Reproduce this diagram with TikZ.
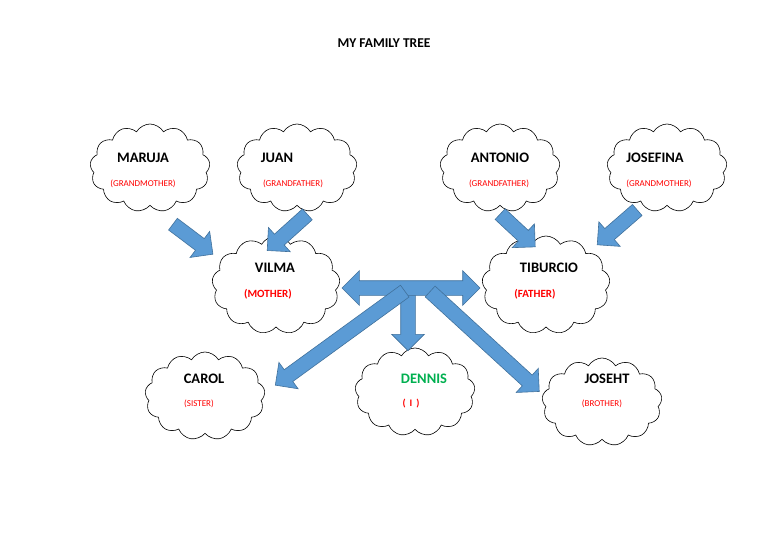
\documentclass[tikz,border=0pt]{standalone}
\usepackage{fontspec}
\setmainfont{Carlito}
\usetikzlibrary{shapes.symbols,shapes.arrows}
\definecolor{abl}{HTML}{5B9BD5}
\definecolor{abd}{HTML}{41719C}
\definecolor{lred}{HTML}{FF0000}
\definecolor{lgrn}{HTML}{00B050}
\tikzset{
 cl/.style={cloud, cloud puffs=13, cloud puff arc=120, aspect=1.4, draw=black, line width=0.6pt, fill=white, minimum width=120pt, minimum height=88pt},
 nm/.style={font=\bfseries\fontsize{14.5}{16}\selectfont},
 lb/.style={font=\fontsize{9}{10}\selectfont, text=lred},
 ba/.style={single arrow, fill=abl, draw=abd, line width=0.6pt, inner sep=0pt, minimum width=32pt, single arrow head extend=9pt, single arrow head indent=0pt, text height=14pt, text depth=0pt, anchor=center},
}
\begin{document}
\begin{tikzpicture}[x=1pt,y=-1pt]
\useasboundingbox (0,0) rectangle (768,543);
\node[font=\bfseries\fontsize{13.5}{15}\selectfont] (title) at (384,43) {MY FAMILY TREE};
% clouds
\node[cl] (maruja) at (150,168) {};
\node[cl] (juan) at (297,168) {};
\node[cl] (antonio) at (500,168) {};
\node[cl] (josefina) at (667,168) {};
\node[cl, minimum width=128pt, minimum height=98pt] (vilma) at (276,285) {};
\node[cl, minimum width=128pt, minimum height=98pt] (tiburcio) at (546,285) {};
\node[cl] (carol) at (205,396) {};
\node[cl] (dennis) at (415,392) {};
\node[cl] (joseht) at (602,402) {};
% texts
\node[nm] (t1) at (143,158) {MARUJA};
\node[lb] (l1) at (143,184) {(GRANDMOTHER)};
\node[nm] (t2) at (277,158) {JUAN};
\node[lb] (l2) at (293,184) {(GRANDFATHER)};
\node[nm] (t3) at (500,158) {ANTONIO};
\node[lb] (l3) at (499,184) {(GRANDFATHER)};
\node[nm] (t4) at (655,158) {JOSEFINA};
\node[lb] (l4) at (659,184) {(GRANDMOTHER)};
\node[nm] (t5) at (275,268) {VILMA};
\node[lb, font=\bfseries\fontsize{11}{12}\selectfont] (l5) at (268,294) {(MOTHER)};
\node[nm] (t6) at (549,268) {TIBURCIO};
\node[lb, font=\bfseries\fontsize{11}{12}\selectfont] (l6) at (535,294) {(FATHER)};
\node[nm] (t7) at (204,379) {CAROL};
\node[lb] (l7) at (199,404) {(SISTER)};
\node[nm, text=lgrn] (t8) at (424,379) {DENNIS};
\node[lb, font=\bfseries\fontsize{10}{11}\selectfont] (l8) at (411,404) {( \,I\, )};
\node[nm] (t9) at (607,379) {JOSEHT};
\node[lb] (l9) at (602,404) {(BROTHER)};
% arrows
\node[ba, minimum height=50pt, rotate=-36.9] (a1) at (190,237) {};
\node[ba, minimum height=54pt, rotate=-138] (a2) at (290,230) {};
\node[ba, minimum height=48pt, rotate=-43] (a3) at (515,228) {};
\node[ba, minimum height=53pt, rotate=-139] (a4) at (620,225) {};
\node[ba, minimum height=58pt, rotate=-90] (a5) at (408,318) {};
\node[double arrow, fill=abl, draw=abd, line width=0.6pt, inner sep=0pt, minimum width=34pt, double arrow head extend=10pt, double arrow head indent=0pt, text height=14pt, text depth=0pt, minimum height=138pt] (a6) at (411,288) {};
\node[ba, minimum height=160pt, rotate=-144] (a7) at (343,336) {};
\node[ba, minimum height=148pt, rotate=-42.5] (a8) at (482,339) {};
\end{tikzpicture}
\end{document}
